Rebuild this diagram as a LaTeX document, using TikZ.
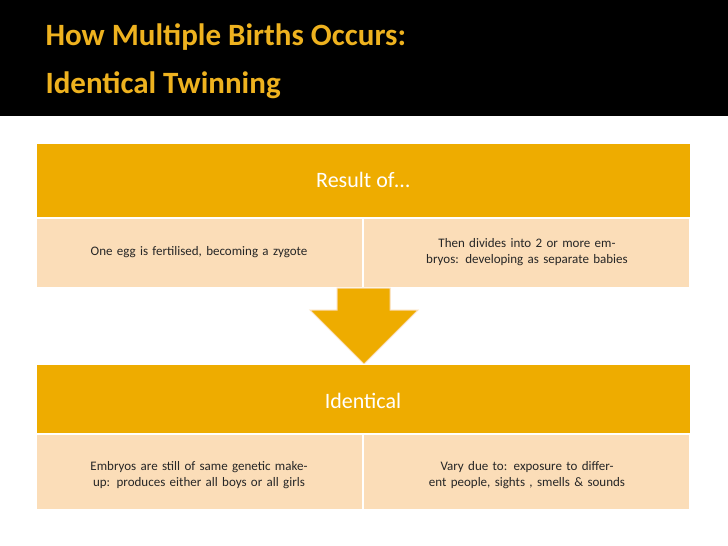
\documentclass[tikz,border=0pt]{standalone}
\usepackage{fontspec}
\setmainfont{Carlito}
\definecolor{gold}{HTML}{EEAC00}
\definecolor{peach}{HTML}{FBDDB8}
\definecolor{titlegold}{HTML}{EEB21F}
\begin{document}
\begin{tikzpicture}[x=1pt,y=-1pt,
  big/.style={fill=gold,draw=white,line width=1pt},
  small/.style={fill=peach,draw=white,line width=1.5pt},
  bigtxt/.style={text=white,font=\fontsize{22}{26}\selectfont},
  smalltxt/.style={text=black!85,font=\fontsize{13}{15.5}\selectfont,align=center,text width=300pt}]
\useasboundingbox (0,0) rectangle (728,546);
\fill[white] (0,0) rectangle (728,546);
\fill[black] (0,0) rectangle (728,116);
\node[anchor=north west,text=titlegold,font=\bfseries\fontsize{31}{48}\selectfont,align=left] (title) at (42,20) {How Multiple Births Occurs:\\Identical Twinning};
\draw[big] (36,143) rectangle (690,218);
\node[bigtxt] (t1) at (363,180) {Result of…};
\draw[small] (36,218) rectangle (363,288);
\draw[small] (363,218) rectangle (690,288);
\node[smalltxt] (a1) at (199,252) {One egg is fertilised, becoming a zygote};
\node[smalltxt] (a2) at (527,252) {Then divides into 2 or more embryos: developing as separate babies};
\draw[fill=gold,draw=peach,line width=1pt] (337,288) -- (390,288) -- (390,310) -- (418,310) -- (364,364) -- (310,310) -- (337,310) -- cycle;
\draw[big] (36,364) rectangle (690,434);
\node[bigtxt] (t2) at (363,401) {Identical};
\draw[small] (36,434) rectangle (363,510);
\draw[small] (363,434) rectangle (690,510);
\node[smalltxt] (b1) at (199,475) {Embryos are still of same genetic make-up: produces either all boys or all girls};
\node[smalltxt] (b2) at (527,475) {Vary due to: exposure to different people, sights , smells \& sounds};
\end{tikzpicture}
\end{document}
